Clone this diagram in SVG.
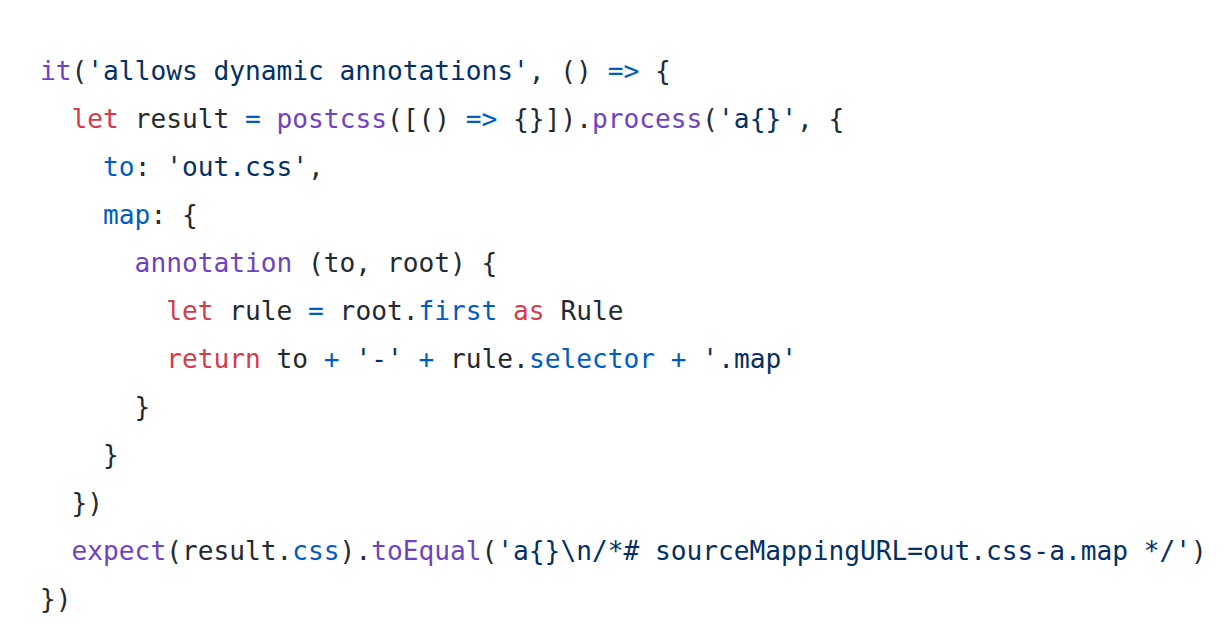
<svg xmlns="http://www.w3.org/2000/svg" width="1226" height="622" viewBox="0 0 1226 622">
<style>
text{font-family:"DejaVu Sans Mono","Liberation Mono",monospace;font-size:26.2px;fill:#24292e;white-space:pre}
.f{fill:#6f42c1}.k{fill:#d73a49}.b{fill:#005cc5}.s{fill:#032f62}
</style>
<rect width="1226" height="622" fill="#ffffff"/>
<g id="code" xml:space="preserve">
<text x="40" y="80"><tspan class="f">it</tspan>(<tspan class="s">'allows dynamic annotations'</tspan>, () <tspan class="b">=&gt;</tspan> {</text>
<text x="40" y="128">  <tspan class="k">let</tspan> result <tspan class="b">=</tspan> <tspan class="f">postcss</tspan>([() <tspan class="b">=&gt;</tspan> {}]).<tspan class="f">process</tspan>(<tspan class="s">'a{}'</tspan>, {</text>
<text x="40" y="176">    <tspan class="b">to</tspan>: <tspan class="s">'out.css'</tspan>,</text>
<text x="40" y="224">    <tspan class="b">map</tspan>: {</text>
<text x="40" y="272">      <tspan class="f">annotation</tspan> (to, root) {</text>
<text x="40" y="320">        <tspan class="k">let</tspan> rule <tspan class="b">=</tspan> root.<tspan class="b">first</tspan> <tspan class="k">as</tspan> Rule</text>
<text x="40" y="368">        <tspan class="k">return</tspan> to <tspan class="b">+</tspan> <tspan class="s">'-'</tspan> <tspan class="b">+</tspan> rule.<tspan class="b">selector</tspan> <tspan class="b">+</tspan> <tspan class="s">'.map'</tspan></text>
<text x="40" y="416">      }</text>
<text x="40" y="464">    }</text>
<text x="40" y="512">  })</text>
<text x="40" y="560">  <tspan class="f">expect</tspan>(result.<tspan class="b">css</tspan>).<tspan class="f">toEqual</tspan>(<tspan class="s">'a{}\n/*# sourceMappingURL=out.css-a.map */'</tspan>)</text>
<text x="40" y="608">})</text>
</g>
</svg>
